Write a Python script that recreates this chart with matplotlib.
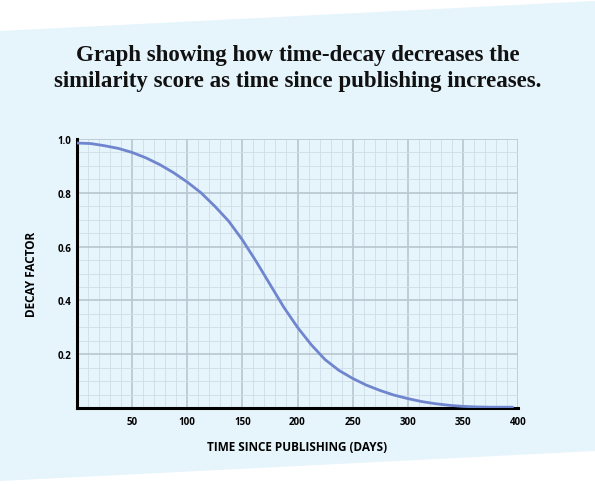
import numpy as np
import matplotlib.pyplot as plt
from matplotlib.patches import Polygon
from matplotlib.ticker import MultipleLocator

# Values
days = [0, 12.5, 25, 37.5, 50, 62.5, 75, 87.5, 100, 112.5, 125, 137.5, 150,
        162.5, 175, 187.5, 200, 212.5, 225, 237.5, 250, 262.5, 275, 287.5, 300,
        312.5, 325, 337.5, 350, 362.5, 375, 395]
decay = [0.985, 0.983, 0.975, 0.965, 0.95, 0.93, 0.905, 0.875, 0.84, 0.80, 0.75,
         0.695, 0.625, 0.545, 0.46, 0.375, 0.30, 0.235, 0.18, 0.14, 0.11, 0.085,
         0.065, 0.048, 0.035, 0.024, 0.016, 0.010, 0.006, 0.004, 0.003, 0.003]
x_ticks = [50, 100, 150, 200, 250, 300, 350, 400]
y_ticks = [0.2, 0.4, 0.6, 0.8, 1.0]

fig = plt.figure(figsize=(5.95, 4.85), dpi=100)
fig.patch.set_facecolor('white')

# slanted light-blue panel behind everything
bg = Polygon([[0, 1 - 32/485], [1, 1 - 2/485], [1, 1 - 452/485], [0, 1 - 482/485]],
             closed=True, transform=fig.transFigure, facecolor='#e6f4fc',
             edgecolor='none', zorder=-10)
fig.patches.append(bg)

fig.text(0.5, 0.858, 'Graph showing how time-decay decreases the\nsimilarity score as time since publishing increases.',
         ha='center', va='center', fontsize=16.5, fontweight='bold',
         family='Liberation Serif', linespacing=1.3, color='#111111')

ax = fig.add_axes([77/595, 1 - 409/485, 441/595, 269/485])
ax.set_zorder(5)
ax.set_facecolor('#e6f4fc')
ax.plot(days, decay, color='#6f86cf', lw=2, zorder=3, solid_capstyle='round')

ax.set_xlim(0, 400)
ax.set_ylim(0, 1.0)
ax.set_xticks(x_ticks)
ax.set_yticks(y_ticks)
ax.set_yticklabels(['0.2', '0.4', '0.6', '0.8', '1.0'])
ax.xaxis.set_minor_locator(MultipleLocator(10))
ax.yaxis.set_minor_locator(MultipleLocator(0.05))
ax.grid(which='major', color='#b7c6cf', lw=1.2)
ax.grid(which='minor', color='#cfdde6', lw=0.6)
ax.set_axisbelow(True)

for s in ['top', 'right']:
    ax.spines[s].set_visible(False)
for s in ['left', 'bottom']:
    ax.spines[s].set_linewidth(2.2)
    ax.spines[s].set_color('black')

ax.tick_params(which='both', length=0)
ax.tick_params(axis='x', pad=6)
ax.tick_params(axis='y', pad=4)
for lab in ax.get_xticklabels() + ax.get_yticklabels():
    lab.set_fontsize(7)
    lab.set_fontweight('bold')
    lab.set_family('Open Sans')

ax.set_xlabel('TIME SINCE PUBLISHING (DAYS)', fontsize=8.5, fontweight='bold',
              family='Open Sans', labelpad=9)
ax.set_ylabel('DECAY FACTOR', fontsize=8.5, fontweight='bold',
              family='Open Sans', labelpad=14)

fig.savefig('out.png', dpi=100)
